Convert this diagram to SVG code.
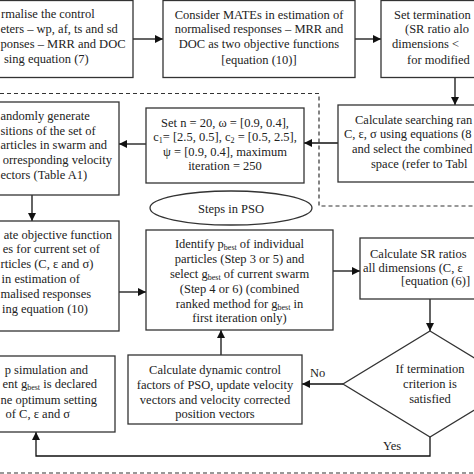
<svg xmlns="http://www.w3.org/2000/svg" width="474" height="474" viewBox="0 0 474 474">
<defs>
<marker id="ah" viewBox="0 0 10 10" refX="10" refY="5" markerWidth="8" markerHeight="8" markerUnits="userSpaceOnUse" orient="auto">
<path d="M0,0 L10,5 L0,10 z" fill="#111"/>
</marker>
<style>
.box{fill:#fff;stroke:#333;stroke-width:1.3}
.t{font-family:"Liberation Serif","Times New Roman",serif;font-size:12.5px;fill:#222}
.m{text-anchor:middle}
.e{text-anchor:end}
.s{font-size:8px}
.c{fill:none;stroke:#111;stroke-width:1.3}
.d{fill:none;stroke:#333;stroke-width:1.2;stroke-dasharray:4 3}
</style>
</defs>
<rect width="474" height="474" fill="#fff"/>
<g id="pso-frame">
<path class="d" d="M0,93.5 H319 V206 H480"/>
<path class="d" d="M0,473 H480"/>
</g>
<g id="connectors">
<line class="c" x1="133" y1="39" x2="163" y2="39" marker-end="url(#ah)"/>
<line class="c" x1="355" y1="39" x2="381" y2="39" marker-end="url(#ah)"/>
<line class="c" x1="455" y1="77" x2="455" y2="105" marker-end="url(#ah)"/>
<line class="c" x1="338" y1="143" x2="304" y2="143" marker-end="url(#ah)"/>
<line class="c" x1="146" y1="144" x2="119" y2="144" marker-end="url(#ah)"/>
<line class="c" x1="32" y1="195" x2="32" y2="221" marker-end="url(#ah)"/>
<line class="c" x1="119" y1="292" x2="146" y2="292" marker-end="url(#ah)"/>
<line class="c" x1="333" y1="271" x2="360" y2="271" marker-end="url(#ah)"/>
<line class="c" x1="430" y1="299" x2="430" y2="331" marker-end="url(#ah)"/>
<line class="c" x1="343" y1="384" x2="302" y2="384" marker-end="url(#ah)"/>
<line class="c" x1="221" y1="355" x2="221" y2="330" marker-end="url(#ah)"/>
<path class="c" d="M430,437 V456 H36 V432" marker-end="url(#ah)"/>
<text class="t" x="310" y="377">No</text>
<text class="t" x="383" y="450">Yes</text>
</g>
<g id="normalise">
<rect class="box" x="-10" y="0.5" width="143" height="77"/>
<text class="t" x="1" y="18">rmalise the control</text>
<text class="t" x="0.5" y="33">eters – wp, af, ts and sd</text>
<text class="t" x="0.5" y="47.5">ponses – MRR and DOC</text>
<text class="t" x="4" y="63">sing equation (7)</text>
</g>
<g id="mates">
<rect class="box" x="163" y="0.5" width="192" height="77"/>
<text class="t m" x="259" y="18.5">Consider MATEs in estimation of</text>
<text class="t m" x="259" y="33">normalised responses – MRR and</text>
<text class="t m" x="259" y="47.5">DOC as two objective functions</text>
<text class="t m" x="259" y="63.5">[equation (10)]</text>
</g>
<g id="termination-set">
<rect class="box" x="381" y="0.5" width="130" height="77"/>
<text class="t" x="394" y="18.5">Set termination</text>
<text class="t" x="405" y="33">(SR ratio alo</text>
<text class="t" x="392" y="47.5">dimensions &lt;</text>
<text class="t" x="407" y="63.5">for modified</text>
</g>
<g id="search-range">
<rect class="box" x="338" y="105" width="150" height="77"/>
<text class="t" x="355" y="123.5">Calculate searching ran</text>
<text class="t" x="344" y="138">C, ε, σ using equations (8</text>
<text class="t" x="352" y="152.5">and select the combined</text>
<text class="t" x="371" y="167.5">space (refer to Tabl</text>
</g>
<g id="parameters">
<rect class="box" x="146" y="108" width="158" height="75"/>
<text class="t m" x="225" y="126.5">Set n = 20, ω = [0.9, 0.4],</text>
<text class="t m" x="225" y="141">c<tspan class="s" dy="2">1</tspan><tspan dy="-2">= [2.5, 0.5], c</tspan><tspan class="s" dy="2">2</tspan><tspan dy="-2"> = [0.5, 2.5],</tspan></text>
<text class="t m" x="225" y="156">ψ = [0.9, 0.4], maximum</text>
<text class="t m" x="225" y="170">iteration = 250</text>
</g>
<g id="random-generate">
<rect class="box" x="-10" y="102" width="129" height="93"/>
<text class="t" x="0.5" y="119.5">andomly generate</text>
<text class="t" x="0.5" y="134.5">sitions of the set of</text>
<text class="t" x="0.5" y="148.5">articles in swarm and</text>
<text class="t e" x="112" y="163.5">orresponding velocity</text>
<text class="t" x="0.5" y="178.5">ectors (Table A1)</text>
</g>
<g id="steps-label">
<ellipse cx="231" cy="208" rx="81" ry="17" fill="#fff" stroke="#333" stroke-width="1.3"/>
<text class="t m" x="231" y="212.5">Steps in PSO</text>
</g>
<g id="objective">
<rect class="box" x="-10" y="221" width="129" height="110"/>
<text class="t e" x="112" y="238.5">ate objective function</text>
<text class="t e" x="100" y="253">es for current set of</text>
<text class="t" x="0.5" y="267.5">rticles (C, ε and σ)</text>
<text class="t e" x="80" y="282.5">in estimation of</text>
<text class="t" x="0.5" y="297.5">malised responses</text>
<text class="t e" x="88" y="312.5">ing equation (10)</text>
</g>
<g id="identify-best">
<rect class="box" x="146" y="230" width="187" height="100"/>
<text class="t m" x="239.5" y="247.5">Identify p<tspan class="s" dy="2">best</tspan><tspan dy="-2"> of individual</tspan></text>
<text class="t m" x="239.5" y="262.5">particles (Step 3 or 5) and</text>
<text class="t m" x="239.5" y="277.5">select g<tspan class="s" dy="2">best</tspan><tspan dy="-2"> of current swarm</tspan></text>
<text class="t m" x="239.5" y="292.5">(Step 4 or 6) (combined</text>
<text class="t m" x="239.5" y="307.5">ranked method for g<tspan class="s" dy="2">best</tspan><tspan dy="-2"> in</tspan></text>
<text class="t m" x="239.5" y="321.5">first iteration only)</text>
</g>
<g id="sr-ratios">
<rect class="box" x="360" y="238" width="150" height="61"/>
<text class="t" x="370" y="257.5">Calculate SR ratios</text>
<text class="t" x="363" y="271.5">all dimensions (C, ε</text>
<text class="t" x="401" y="285">[equation (6)]</text>
</g>
<g id="termination-check">
<polygon points="430,331 517,384 430,437 343,384" fill="#fff" stroke="#333" stroke-width="1.3"/>
<text class="t m" x="430" y="372.5">If termination</text>
<text class="t m" x="430" y="387.5">criterion is</text>
<text class="t m" x="430" y="402.5">satisfied</text>
</g>
<g id="update-vectors">
<rect class="box" x="128" y="355" width="174" height="69"/>
<text class="t m" x="215" y="373.5">Calculate dynamic control</text>
<text class="t m" x="215" y="388.5">factors of PSO, update velocity</text>
<text class="t m" x="215" y="403.5">vectors and velocity corrected</text>
<text class="t m" x="215" y="417.5">position vectors</text>
</g>
<g id="stop">
<rect class="box" x="-10" y="356" width="125" height="76"/>
<text class="t e" x="88" y="373.5">p simulation and</text>
<text class="t e" x="97" y="388">ent g<tspan class="s" dy="2">best</tspan><tspan dy="-2"> is declared</tspan></text>
<text class="t" x="0.5" y="403.5">ne optimum setting</text>
<text class="t e" x="70" y="417.5">of C, ε and σ</text>
</g>
</svg>
